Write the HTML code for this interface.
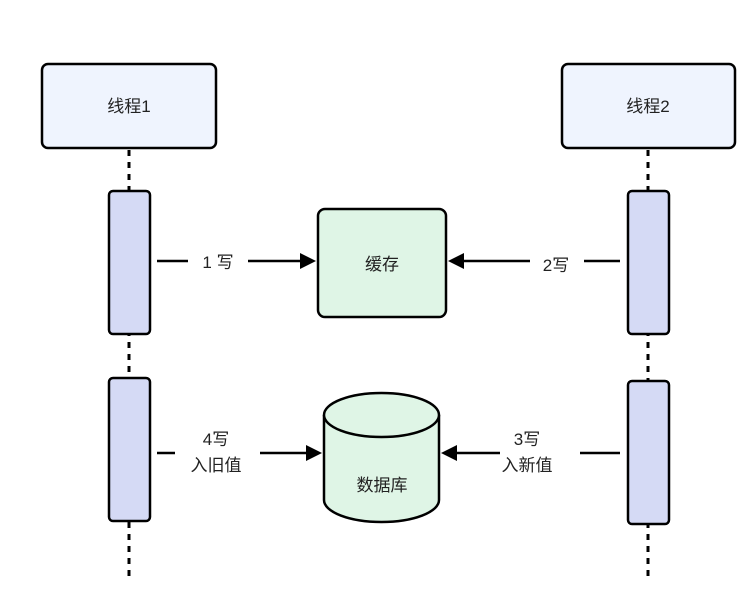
<!DOCTYPE html>
<html><head><meta charset="utf-8"><style>body{margin:0;background:#fff}</style></head><body>
<svg width="750" height="604" xmlns="http://www.w3.org/2000/svg" font-family="Liberation Sans, Noto Sans CJK SC, sans-serif" font-size="17" fill="#222">
<g stroke="#000" stroke-width="3" stroke-dasharray="6,6">
<line x1="129" y1="150" x2="129" y2="580"/>
<line x1="648" y1="150" x2="648" y2="580"/>
</g>
<g stroke="#000" stroke-width="2.5">
<rect x="42" y="64" width="174" height="84" rx="6" fill="#eff4fe"/>
<rect x="562" y="64" width="173" height="84" rx="6" fill="#eff4fe"/>
<rect x="109" y="191" width="41" height="143" rx="4" fill="#d5daf5"/>
<rect x="109" y="378" width="41" height="143" rx="4" fill="#d5daf5"/>
<rect x="628" y="191" width="41" height="143" rx="4" fill="#d5daf5"/>
<rect x="628" y="381" width="41" height="143" rx="4" fill="#d5daf5"/>
<rect x="318" y="209" width="128" height="108" rx="7" fill="#dff5e6"/>
<path d="M324 415 L324 500 A57.5 22 0 0 0 439 500 L439 415" fill="#dff5e6"/>
<ellipse cx="381.5" cy="415" rx="57.5" ry="22" fill="#dff5e6"/>
</g>
<g stroke="#000" stroke-width="2.5">
<line x1="157" y1="261" x2="188" y2="261"/><line x1="248" y1="261" x2="302" y2="261"/>
<line x1="620" y1="261" x2="584" y2="261"/><line x1="530" y1="261" x2="462" y2="261"/>
<line x1="157" y1="453" x2="175" y2="453"/><line x1="260" y1="453" x2="308" y2="453"/>
<line x1="620" y1="453" x2="580" y2="453"/><line x1="500" y1="453" x2="455" y2="453"/>
</g>
<g fill="#000">
<polygon points="316,261 300,253 300,269"/>
<polygon points="448,261 464,253 464,269"/>
<polygon points="322,453 306,445 306,461"/>
<polygon points="441,453 457,445 457,461"/>
</g>
<g text-anchor="middle">
<text x="129" y="112">线程1</text>
<text x="648" y="112">线程2</text>
<text x="382" y="270">缓存</text>
<text x="382" y="491">数据库</text>
<text x="218" y="268">1 写</text>
<text x="556" y="271">2写</text>
<text x="216" y="445">4写</text>
<text x="216" y="471">入旧值</text>
<text x="527" y="445">3写</text>
<text x="527" y="471">入新值</text>
</g>
</svg>
</body></html>
